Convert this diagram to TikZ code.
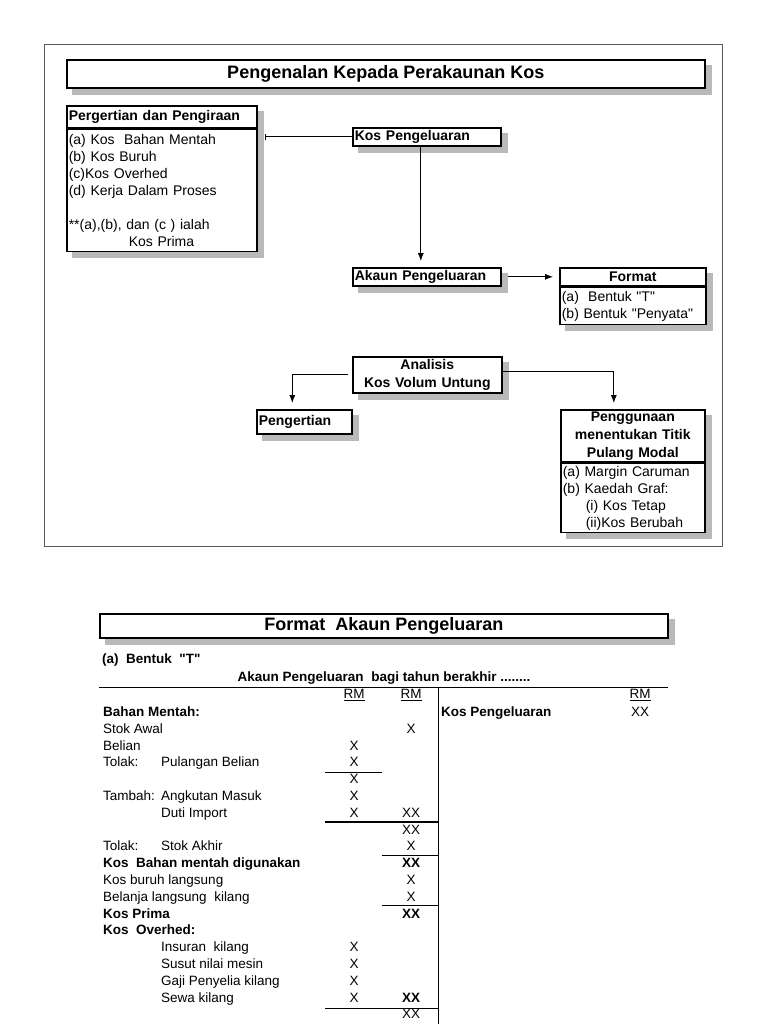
\documentclass[tikz,border=0pt]{standalone}
\usepackage{fontspec}
\setmainfont{Liberation Sans}
\usetikzlibrary{arrows.meta,backgrounds,calc}

\tikzset{
	box/.style = {draw, line width=1.6pt, fill=white, inner xsep=2pt, inner ysep=0pt,
		anchor=north west, align=left, font=\fontsize{14}{17}\selectfont},
	hd/.style = {box, font=\fontsize{14}{18}\selectfont\bfseries},
	conn/.style = {line width=0.8pt, -{Latex[length=8pt,width=6pt]}, shorten >=6pt},
	shade/.style = {fill=gray!55},
	tx/.style = {anchor=west, inner sep=0pt, text height=10pt, text depth=3pt, font=\fontsize{13.5}{15}\selectfont},
	num/.style = {inner sep=0pt, text height=10pt, text depth=3pt, font=\fontsize{13.5}{15}\selectfont},
	rule/.style = {line width=0.8pt},
}
\newcommand\qq[1]{\textquotedbl#1\textquotedbl}

\begin{document}
\begin{tikzpicture}[x=1pt, y=-1pt]

			\def\yo{713}
			\def\dy{16.8}

			\useasboundingbox (0,0) rectangle (768,1024);
			\draw[gray!70!black, line width=0.8pt] (44,44) rectangle (722,546);

			\node[hd, minimum width=638pt, minimum height=28pt, align=center,
				font=\fontsize{18}{20}\selectfont\bfseries] (title) at (66,59) {Pengenalan Kepada Perakaunan Kos};

			\node[hd, text width=186pt, minimum height=22pt] (pdph) at (66,105) {Pergertian dan Pengiraan};
			\node[box, text width=186pt, minimum height=122pt] (pdpb) at (pdph.south west)
				{(a) Kos~ Bahan Mentah\\(b) Kos Buruh\\(c)Kos Overhed\\(d) Kerja Dalam Proses\\[17pt]
				**(a),(b), dan (c ) ialah\\\hspace*{60pt}Kos Prima};

			\node[hd, text width=144pt, minimum height=18pt] (kp) at (352,127) {Kos Pengeluaran};
			\node[hd, text width=144pt, minimum height=18pt] (ap) at (352,267) {Akaun Pengeluaran};

			\node[hd, text width=142pt, minimum height=18pt, align=center] (fmth) at (559,267) {Format};
			\node[box, text width=142pt, minimum height=37pt] (fmtb) at (fmth.south west)
				{(a)~ Bentuk \qq{T}\\(b) Bentuk \qq{Penyata}};

			\node[hd, text width=145pt, minimum height=36pt, align=center] (kvu) at (352,356) {Analisis\\Kos Volum Untung};
			\node[hd, text width=91pt, minimum height=24pt] (pgt) at (256,409) {Pengertian};

			\node[hd, text width=140pt, minimum height=52pt, align=center] (pgh) at (560,409)
				{Penggunaan\\menentukan Titik\\Pulang Modal};
			\node[box, text width=140pt, minimum height=69pt] (pgb) at (pgh.south west)
				{(a) Margin Caruman\\(b) Kaedah Graf:\\\hspace*{23pt}(i) Kos Tetap\\\hspace*{23pt}(ii)Kos Berubah};

			\draw[line width=0.8pt, -{Bar[width=6pt]}, shorten >=7pt] (kp.west) -- (kp.west -| pdpb.east);
			\draw[conn] ([xshift=-6pt]kp.south) -- ([xshift=-6pt]ap.north);
			\draw[conn] ([xshift=6pt]ap.east) -- (ap.east -| fmtb.west);
			\draw[conn] ([xshift=-4pt]kvu.west) -| ([xshift=-12pt]pgt.north);
			\draw[conn] ([yshift=3pt]kvu.east) -| ([xshift=-19pt]pgh.north);

			\node[hd, minimum width=568pt, minimum height=24pt, align=center,
				font=\fontsize{18}{20}\selectfont\bfseries] (title2) at (99,613) {Format~ Akaun Pengeluaran};

			\begin{scope}[on background layer]
				\foreach \a/\b in {title/title, pdph/pdpb, kp/kp, ap/ap, fmth/fmtb, kvu/kvu, pgt/pgt, pgh/pgb, title2/title2}
					\fill[shade] ($(\a.north west)+(6,6)$) rectangle ($(\b.south east)+(6,6)$);
			\end{scope}

			\node[tx, font=\fontsize{13.5}{15}\selectfont\bfseries] (bentuk) at (102,660) {(a)~ Bentuk~ \qq{T}};
			\node[num, font=\fontsize{13.5}{15}\selectfont\bfseries] (judul) at (384,678)
				{Akaun Pengeluaran~ bagi tahun berakhir ........};

			\draw[rule] (99,687) -- (668,687);
			\draw[rule] (438,687) -- (438,1024);

			\node[num] (rm1) at (354,695) {\underline{RM}};
			\node[num] (rm2) at (411,695) {\underline{RM}};
			\node[num] (rm3) at (640,695) {\underline{RM}};

			\foreach \i/\txt in {0/\textbf{Bahan Mentah:}, 1/Stok Awal, 2/Belian, 3/Tolak:, 5/Tambah:, 8/Tolak:,
				9/\textbf{Kos~ Bahan mentah digunakan}, 10/Kos buruh langsung, 11/Belanja langsung~ kilang,
				12/\textbf{Kos Prima}, 13/\textbf{Kos~ Overhed:}}
				\node[tx] (l\i) at (103,\yo+\dy*\i) {\txt};

			\foreach \i/\txt in {3/Pulangan Belian, 5/Angkutan Masuk, 6/Duti Import, 8/Stok Akhir,
				14/Insuran~ kilang, 15/Susut nilai mesin, 16/Gaji Penyelia kilang, 17/Sewa kilang}
				\node[tx] (m\i) at (161,\yo+\dy*\i) {\txt};

			\foreach \i in {2,3,4,5,6,14,15,16,17}
				\node[num] (a\i) at (354,\yo+\dy*\i) {X};

			\foreach \i/\v in {1/X, 6/XX, 7/XX, 8/X, 9/\textbf{XX}, 10/X, 11/X, 12/\textbf{XX}, 17/\textbf{XX}, 18/XX}
				\node[num] (b\i) at (411,\yo+\dy*\i) {\v};

			\node[tx, font=\fontsize{13.5}{15}\selectfont\bfseries] (kosp) at (441,\yo) {Kos Pengeluaran};
			\node[num] (kospv) at (640,\yo) {XX};

			\draw[rule] (325,772) -- (382,772);
			\draw[line width=2pt] (325,822) -- (438,822);
			\draw[rule] (382,855) -- (438,855);
			\draw[rule] (382,905) -- (438,905);
			\draw[rule] (325,1008) -- (438,1008);

		\end{tikzpicture}
\end{document}
